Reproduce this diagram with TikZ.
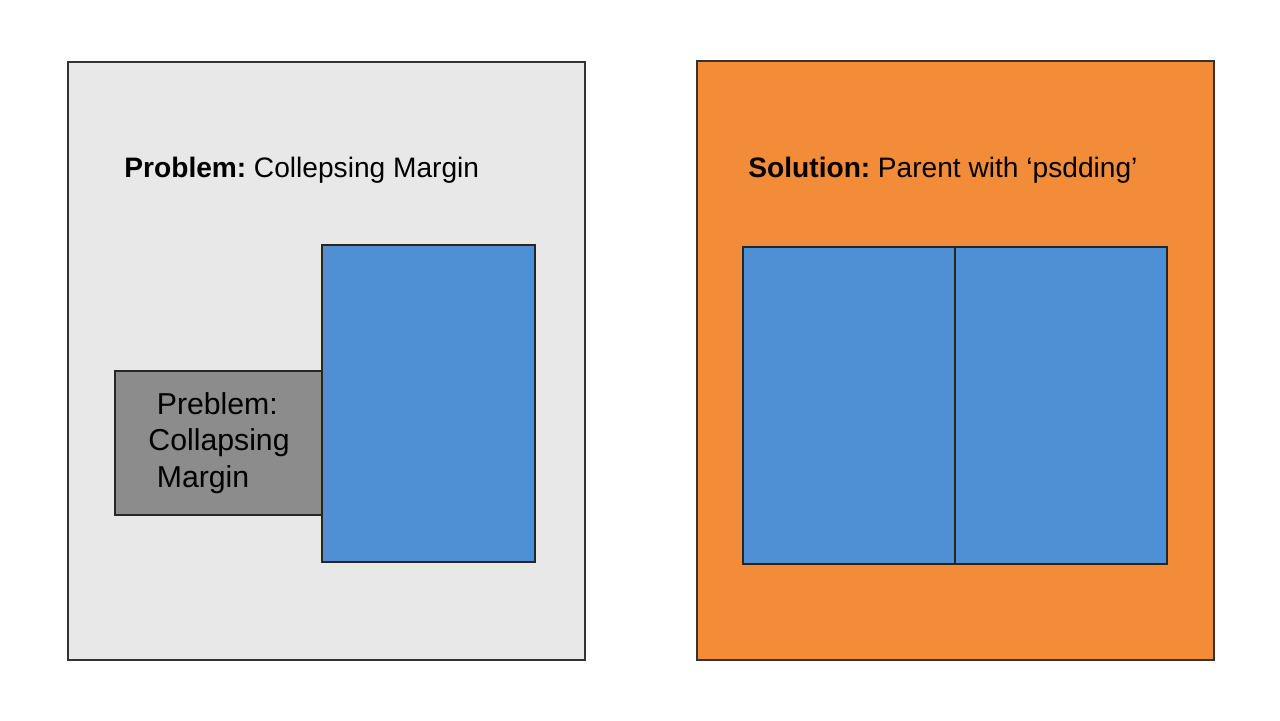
\documentclass[tikz,border=0pt]{standalone}
\usepackage{fontspec}
\setmainfont{Liberation Sans}
\usetikzlibrary{positioning}
\definecolor{panelgray}{HTML}{E8E8E8}
\definecolor{paneorange}{HTML}{F28C38}
\definecolor{boxblue}{HTML}{4F8FD4}
\definecolor{boxgray}{HTML}{8C8C8C}

\begin{document}
\begin{tikzpicture}[x=0.01cm, y=-0.01cm,
    panel/.style={draw=black!80, line width=0.6pt},
    block/.style={draw=black!85, fill=boxblue, line width=0.6pt},
    title/.style={anchor=west, font=\fontsize{8.0}{10}\selectfont}]
    \useasboundingbox (0,0) rectangle (1280,720);
    \fill[white] (0,0) rectangle (1280,720);

    % Left panel
    \draw[panel, fill=panelgray] (68,62) rectangle (585,660);
    \node[title] (ltitle) at (112,170) {\textbf{Problem:}\hspace{-0.1em} Collepsing Margin};
    \draw[draw=black!85, fill=boxgray, line width=0.6pt] (115,371) rectangle (322,515);
    \node[align=left, anchor=west, font=\fontsize{8.6}{10.3}\selectfont] (inner) at (136,443) {\ Preblem:\\Collapsing\\\ Margin};
    \draw[block] (322,245) rectangle (535,562);

    % Right panel
    \draw[panel, fill=paneorange] (697,61) rectangle (1214,660);
    \node[title] (rtitle) at (736,170) {\textbf{Solution:}\hspace{-0.1em} Parent with `psdding'};
    \draw[block] (743,247) rectangle (955,564);
    \draw[block] (955,247) rectangle (1167,564);
\end{tikzpicture}
\end{document}
